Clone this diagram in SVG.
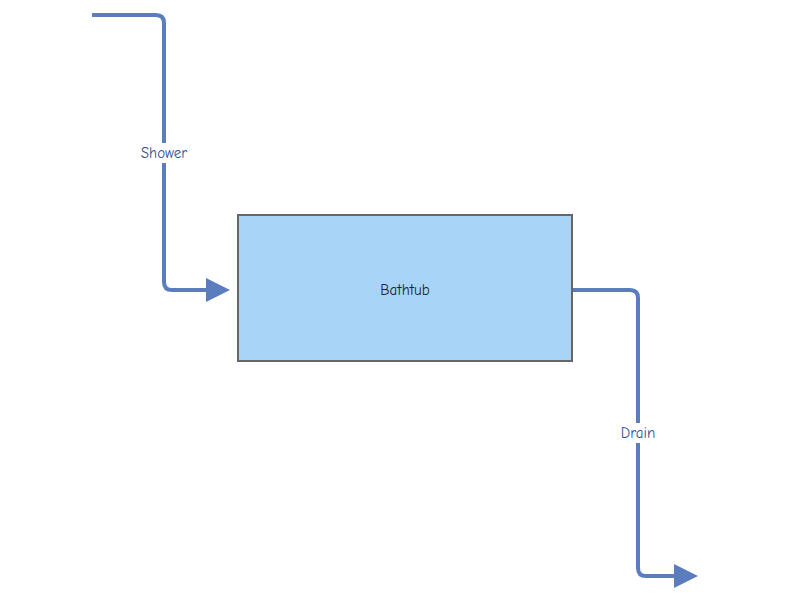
<svg xmlns="http://www.w3.org/2000/svg" width="800" height="600" viewBox="0 0 800 600">
<style>
.flow{fill:none;stroke:#5b7dbd;stroke-width:4;stroke-linejoin:round}
.lbl{font-family:"Comic Neue","DejaVu Sans",sans-serif;font-size:15px;fill:#2f4f8f;text-anchor:middle}
.lblbg{fill:#ffffff}
</style>
<defs>
<marker id="arr" markerWidth="6" markerHeight="6" refX="4" refY="3" orient="auto" markerUnits="strokeWidth">
<path d="M0,0 L6,3 L0,6 Z" fill="#5b7dbd"/>
</marker>
</defs>
<rect width="800" height="600" fill="#ffffff"/>
<g id="connectors">
<path class="flow" d="M92,15 H156 Q164,15 164,23 V282 Q164,290 172,290 H222" marker-end="url(#arr)"/>
<path class="flow" d="M572,290 H630 Q638,290 638,298 V568 Q638,576 646,576 H690" marker-end="url(#arr)"/>
<rect class="lblbg" x="130" y="143" width="68" height="20"/>
<text class="lbl" x="164" y="158">Shower</text>
<rect class="lblbg" x="612" y="423" width="52" height="20"/>
<text class="lbl" x="638" y="438">Drain</text>
</g>
<g id="bathtub">
<rect x="238" y="215" width="334" height="146" fill="#a8d4f7" stroke="#666666" stroke-width="2"/>
<text x="405" y="295" font-family="'Comic Neue','DejaVu Sans',sans-serif" font-size="15" fill="#222" text-anchor="middle">Bathtub</text>
</g>
</svg>
